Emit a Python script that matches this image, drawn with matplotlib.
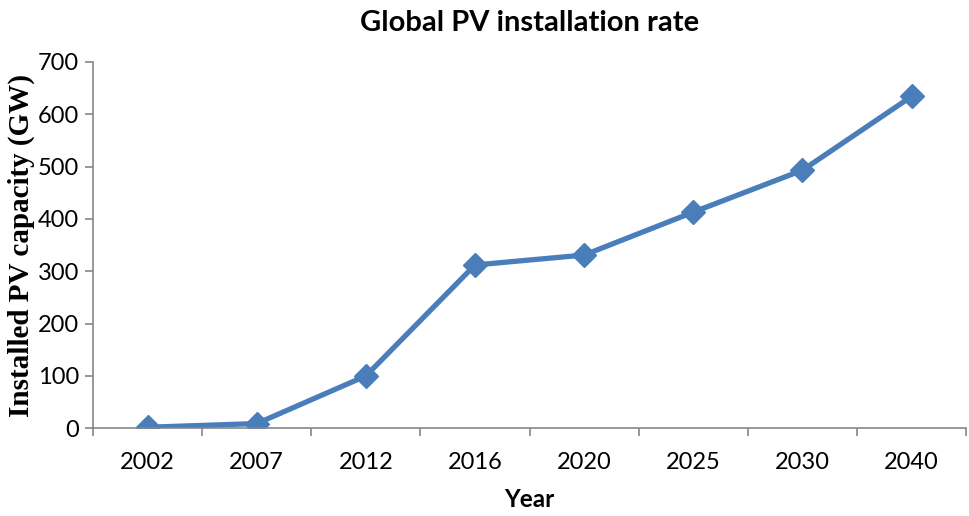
import matplotlib
matplotlib.use('Agg')
import matplotlib.pyplot as plt

years = ['2002', '2007', '2012', '2016', '2020', '2025', '2030', '2040']
capacity = [2, 9, 100, 312, 331, 413, 493, 634]

plt.rcParams['font.family'] = ['Lato', 'DejaVu Sans']

fig = plt.figure(figsize=(9.69, 5.16), dpi=100)
ax = fig.add_axes([0.096, 0.170, 0.901, 0.710])

x = list(range(len(years)))
ax.plot(x, capacity, color='#4a7ebb', linewidth=3.8, marker='D', markersize=12,
        solid_joinstyle='round')

ax.set_xlim(-0.5, len(years) - 0.5)
ax.set_ylim(0, 700)
ax.set_yticks(range(0, 701, 100))
ax.set_xticks(x)
ax.set_xticklabels(years)
ax.set_xticks([i - 0.5 for i in range(len(years) + 1)], minor=True)
ax.tick_params(axis='x', which='major', length=0, pad=17, labelsize=17)
ax.tick_params(axis='x', which='minor', length=6, color='#868686', width=1.2)
ax.tick_params(axis='y', length=6, color='#868686', width=1.2, labelsize=17, pad=4)

for s in ['top', 'right']:
    ax.spines[s].set_visible(False)
for s in ['left', 'bottom']:
    ax.spines[s].set_color('#868686')
    ax.spines[s].set_linewidth(1.2)

ax.set_title('Global PV installation rate', fontsize=21, fontweight='bold', pad=22)
ax.set_xlabel('Year', fontsize=17.5, fontweight='bold', labelpad=11)
ax.set_ylabel('Installed PV capacity (GW)', fontsize=21, fontweight='bold',
              family='Liberation Serif', labelpad=2)

plt.savefig('out.png', dpi=100)
